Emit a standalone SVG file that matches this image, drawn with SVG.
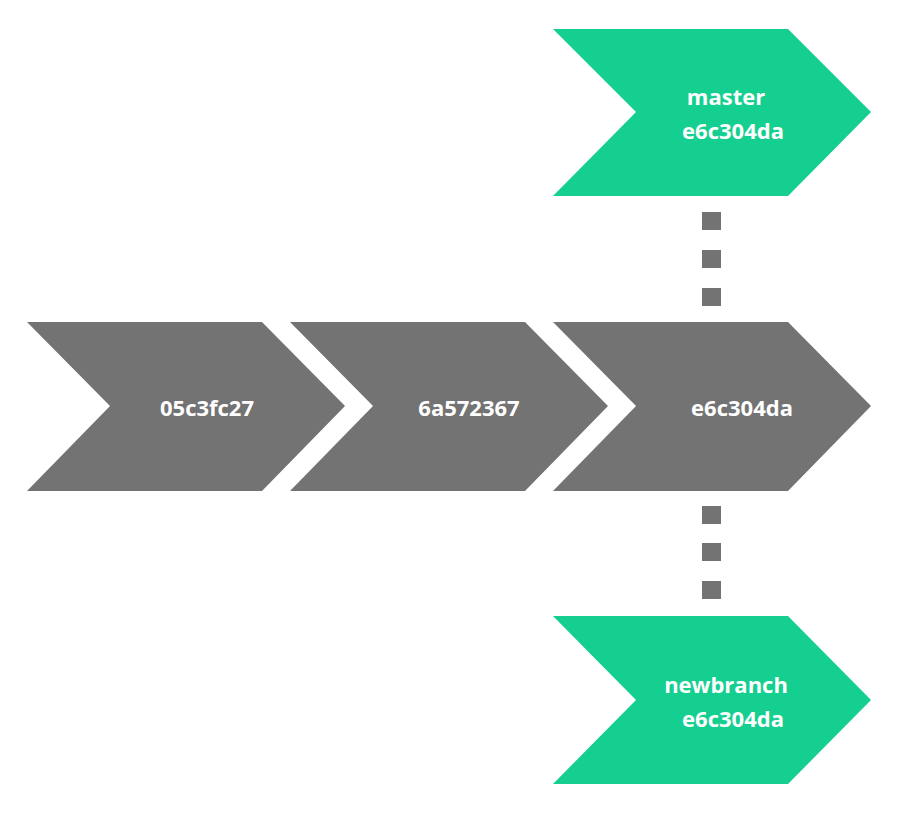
<svg xmlns="http://www.w3.org/2000/svg" width="907" height="813" viewBox="0 0 907 813">
<style>
.g{fill:#737373}.b{fill:#14cf8f}
text{font-family:"Open Sans","Liberation Sans",sans-serif;font-weight:bold;font-size:22px;fill:#fff;text-anchor:middle;dominant-baseline:central}
</style>
<rect width="907" height="813" fill="#fff"/>
<g id="connectors" class="g">
<rect x="702" y="212" width="19" height="18"/><rect x="702" y="250" width="19" height="18"/><rect x="702" y="288" width="19" height="18"/>
<rect x="702" y="506" width="19" height="18"/><rect x="702" y="543" width="19" height="18"/><rect x="702" y="581" width="19" height="18"/>
</g>
<g id="c1"><polygon class="g" points="27,322 262,322 345,406 262,491 27,491 110,406"/><text x="207" y="407">05c3fc27</text></g>
<g id="c2"><polygon class="g" points="290,322 525,322 608,406 525,491 290,491 373,406"/><text x="469" y="407">6a572367</text></g>
<g id="c3"><polygon class="g" points="553,322 788,322 871,406 788,491 553,491 636,406"/><text x="742" y="407">e6c304da</text></g>
<g id="master"><polygon class="b" points="553,29 788,29 871,112 788,196 553,196 636,112"/><text x="726" y="96">master</text><text x="733" y="130">e6c304da</text></g>
<g id="newbranch"><polygon class="b" points="553,616 788,616 871,700 788,784 553,784 636,700"/><text x="726" y="684">newbranch</text><text x="733" y="718">e6c304da</text></g>
</svg>
